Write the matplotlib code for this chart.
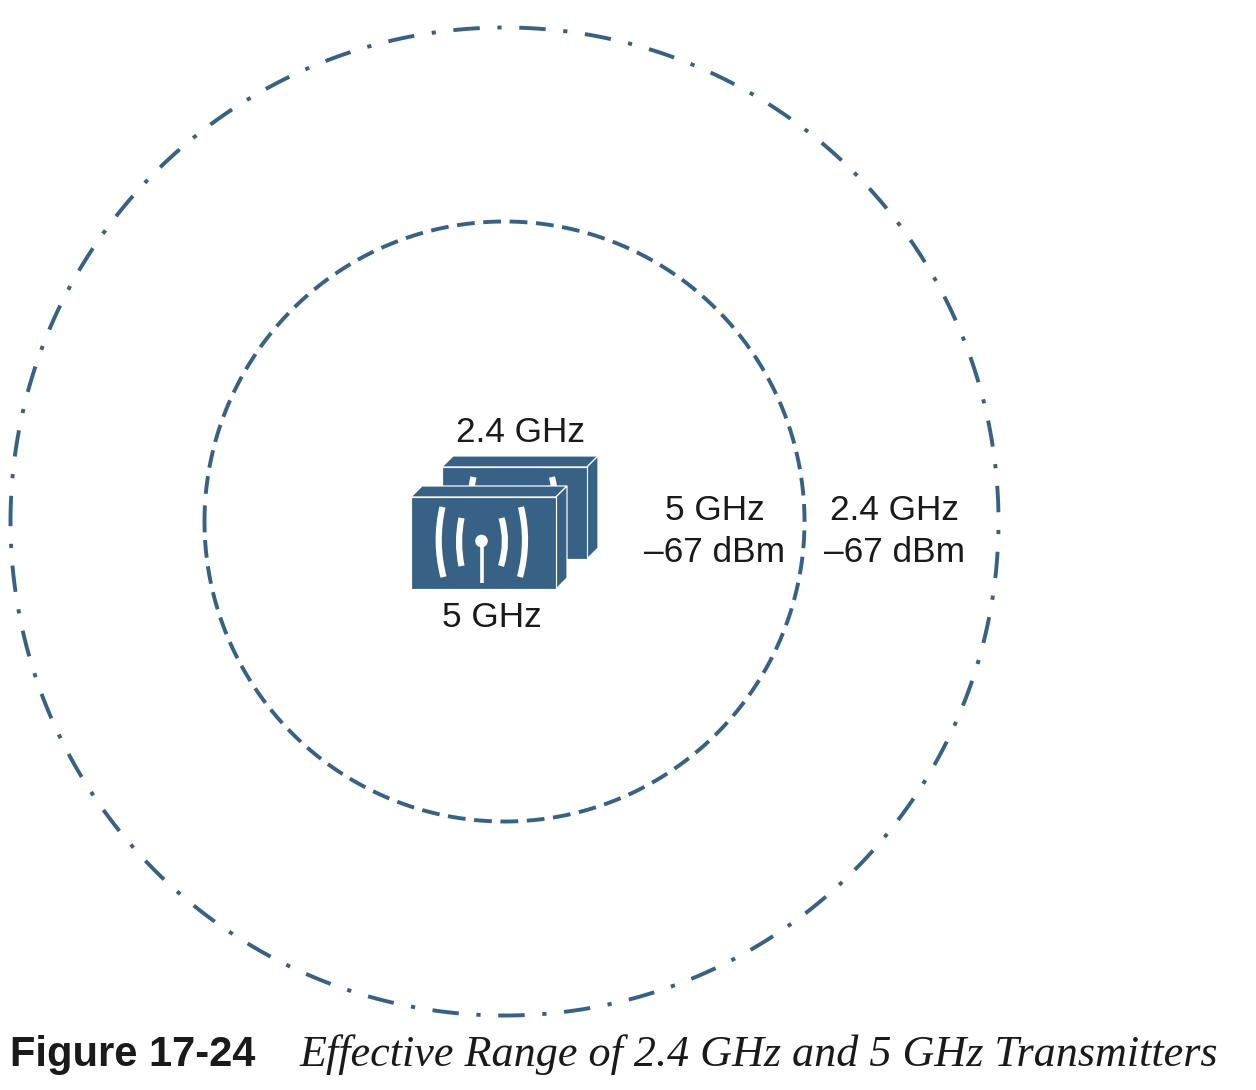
import numpy as np
import matplotlib
matplotlib.use("Agg")
import matplotlib.pyplot as plt
from matplotlib.collections import LineCollection
from matplotlib.patches import Circle, Polygon, PathPatch
from matplotlib.path import Path

plt.rcParams['font.family'] = ['Liberation Sans', 'DejaVu Sans']

# Diagram content
range_radii = {'5 GHz': 300, '2.4 GHz': 494}
center_labels = ['2.4 GHz', '5 GHz']
range_labels = [('5 GHz', '\u201367 dBm'), ('2.4 GHz', '\u201367 dBm')]
caption_number = 'Figure 17-24'
caption_title = 'Effective Range of 2.4 GHz and 5 GHz Transmitters'

BLUE = '#376185'
INK = '#1a1a1a'
PX = 0.72  # points per pixel at dpi 100

fig = plt.figure(figsize=(12.56, 10.9), dpi=100, facecolor='white')
ax = fig.add_axes([0, 0, 1, 1])
ax.set_xlim(0, 1256)
ax.set_ylim(1090, 0)
ax.axis('off')

cx, cy = 504.5, 521.5
segs = []


def stroke(radius, centre_deg, length_px):
    half = length_px / 2 / radius
    th = np.linspace(np.radians(centre_deg) - half, np.radians(centre_deg) + half, 12)
    segs.append(np.column_stack([cx + radius * np.cos(th), cy + radius * np.sin(th)]))


# 2.4 GHz ring: dots at a steady pitch from the right, closing on a longer dash at the left
R = range_radii['2.4 GHz']
dots = 1.22 + 7.65 * np.arange(-23, 24)
for d in dots:
    stroke(R, d, 4.2)
gaps = np.append(dots[1:], dots[0] + 360) - dots
for d, g in zip(dots, gaps):
    stroke(R, d + g / 2, np.radians(g) * R - 39.5)

# 5 GHz ring: plain dashes, again closing on a longer dash at the left
r = range_radii['5 GHz']
dashes = -1.64 + 5.04 * np.arange(-34, 36)
for d in dashes:
    stroke(r, d, 17.8)
stroke(r, 180.5, 27)

ax.add_collection(LineCollection(segs, colors=BLUE, linewidths=3.9 * PX, capstyle='butt'))


def arc(p0, bulge, p1, z):
    ctrl = (2 * bulge[0] - (p0[0] + p1[0]) / 2, 2 * bulge[1] - (p0[1] + p1[1]) / 2)
    ax.add_patch(PathPatch(Path([p0, ctrl, p1], [Path.MOVETO, Path.CURVE3, Path.CURVE3]),
                           fill=False, edgecolor='white', linewidth=6.2 * PX,
                           capstyle='butt', zorder=z))


def radio(dx, dy, z):
    def t(pts):
        return [(x + dx, y + dy) for x, y in pts]
    for pts in ([(411, 497), (422, 486), (567, 486), (556, 497)],
                [(556, 497), (567, 486), (567, 578), (556, 589)],
                [(411, 497), (556, 497), (556, 589), (411, 589)]):
        ax.add_patch(Polygon(t(pts), closed=True, facecolor=BLUE, edgecolor='white',
                             linewidth=1.2 * PX, joinstyle='miter', zorder=z))
    arcs = [((442.5, 507), (438.7, 542), (443.5, 577)),
            ((461.5, 518), (459, 542), (461.5, 566)),
            ((501.5, 518), (505, 542), (501, 566)),
            ((521, 507), (525, 542), (520, 577))]
    for a, b, c in arcs:
        (a, b, c) = t([a, b, c])
        arc(a, b, c, z + 0.1)
    ax.plot(*zip(*t([(481.5, 541), (481.5, 583)])), color='white', lw=3.6 * PX,
            solid_capstyle='butt', zorder=z + 0.1)
    ax.add_patch(Circle(t([(481.5, 541)])[0], 6.3, facecolor='white', edgecolor='none',
                        zorder=z + 0.1))


radio(31, -30, 3)
radio(0, 0, 4)

FS = 25.4
kw = dict(fontsize=FS, color=INK, ha='center', va='baseline', zorder=6)
ax.text(520.5, 442, center_labels[0], **kw)
ax.text(492, 627, center_labels[1], **kw)
for x, (a, b) in zip([715, 895], range_labels):
    ax.text(x, 520, a, **kw)
    ax.text(x, 562, b, **kw)

ax.text(10, 1066, caption_number, fontsize=30, fontweight='bold', color=INK,
        ha='left', va='baseline')
ax.text(300, 1066, caption_title, fontsize=31.8, style='italic', color=INK,
        family=['Liberation Serif', 'DejaVu Serif'], ha='left', va='baseline')

fig.savefig('out.png', dpi=100, facecolor='white')
